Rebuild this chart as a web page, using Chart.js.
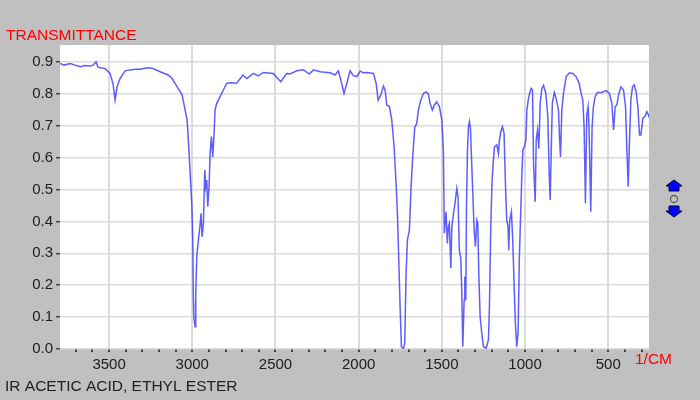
<!DOCTYPE html>
<html>
<head>
<meta charset="utf-8">
<title>IR acetic acid, ethyl ester</title>
<script src="https://cdn.jsdelivr.net/npm/chart.js@4.4.1/dist/chart.umd.min.js"></script>
<style>
  html, body { margin: 0; padding: 0; background: #c0c0c0; }
  #irChart { display: block; }
</style>
</head>
<body>
<canvas id="irChart" width="700" height="400"></canvas>
<script>
// wavenumber (1/cm) from left to right
const wavenumbers = [
  3795, 3770, 3734, 3704, 3674, 3644, 3614, 3596, 3578, 3566, 3524, 3494, 3476, 3464, 3452, 3434,
  3404, 3374, 3344, 3314, 3266, 3242, 3193, 3145, 3121, 3085, 3061, 3043, 3031, 3019, 3013, 3003,
  2997, 2993, 2991, 2983, 2979, 2973, 2963, 2953, 2947, 2941, 2933, 2925, 2919, 2913, 2907, 2899,
  2893, 2885, 2877, 2869, 2863, 2853, 2833, 2813, 2793, 2763, 2733, 2696, 2672, 2633, 2603, 2573,
  2513, 2468, 2432, 2412, 2372, 2332, 2296, 2272, 2232, 2172, 2142, 2122, 2107, 2088, 2071, 2052,
  2032, 2011, 1991, 1972, 1951, 1911, 1895, 1883, 1867, 1851, 1841, 1831, 1815, 1801, 1787, 1775,
  1767, 1759, 1751, 1743, 1731, 1723, 1715, 1707, 1695, 1685, 1675, 1663, 1651, 1641, 1627, 1611,
  1595, 1581, 1571, 1557, 1545, 1531, 1515, 1500, 1491, 1485, 1475, 1467, 1461, 1455, 1446, 1440,
  1431, 1421, 1410, 1403, 1395, 1386, 1380, 1374, 1366, 1362, 1356, 1352, 1346, 1340, 1334, 1328,
  1322, 1314, 1306, 1298, 1290, 1284, 1278, 1270, 1260, 1250, 1234, 1220, 1214, 1206, 1198, 1190,
  1184, 1170, 1160, 1154, 1146, 1136, 1126, 1118, 1110, 1102, 1098, 1092, 1082, 1074, 1066, 1058,
  1050, 1042, 1034, 1025, 1019, 1013, 1004, 995, 989, 981, 973, 963, 955, 949, 939, 933,
  925, 917, 909, 899, 889, 875, 863, 855, 849, 843, 836, 824, 813, 799, 793, 787,
  779, 769, 753, 733, 713, 693, 675, 663, 653, 645, 637, 629, 621, 615, 605, 597,
  589, 579, 565, 539, 513, 493, 478, 468, 458, 448, 438, 424, 408, 396, 388, 380,
  372, 364, 354, 344, 332, 322, 312, 304, 292, 278, 268, 258, 255
];

const transmittance = [
  0.895, 0.890, 0.895, 0.890, 0.885, 0.889, 0.887, 0.890, 0.900, 0.883, 0.879, 0.864, 0.830, 0.780, 0.822, 0.848,
  0.872, 0.875, 0.877, 0.877, 0.882, 0.880, 0.869, 0.859, 0.848, 0.817, 0.796, 0.749, 0.718, 0.614, 0.552, 0.457,
  0.342, 0.144, 0.100, 0.070, 0.175, 0.290, 0.342, 0.390, 0.425, 0.352, 0.394, 0.561, 0.509, 0.530, 0.446, 0.510,
  0.613, 0.666, 0.602, 0.676, 0.749, 0.770, 0.791, 0.812, 0.833, 0.835, 0.833, 0.859, 0.848, 0.864, 0.856, 0.867,
  0.864, 0.838, 0.864, 0.862, 0.872, 0.875, 0.862, 0.875, 0.869, 0.866, 0.859, 0.872, 0.843, 0.801, 0.833, 0.872,
  0.857, 0.854, 0.871, 0.866, 0.867, 0.864, 0.833, 0.780, 0.796, 0.824, 0.812, 0.765, 0.760, 0.718, 0.634, 0.519,
  0.425, 0.279, 0.133, 0.007, 0.002, 0.018, 0.237, 0.342, 0.373, 0.509, 0.602, 0.695, 0.707, 0.749, 0.780, 0.801,
  0.806, 0.800, 0.770, 0.749, 0.765, 0.775, 0.760, 0.718, 0.624, 0.363, 0.430, 0.331, 0.383, 0.394, 0.253, 0.383,
  0.420, 0.457, 0.503, 0.477, 0.310, 0.284, 0.174, 0.007, 0.154, 0.227, 0.154, 0.446, 0.624, 0.697, 0.713, 0.691,
  0.602, 0.488, 0.373, 0.321, 0.404, 0.394, 0.237, 0.101, 0.049, 0.007, 0.003, 0.028, 0.133, 0.383, 0.530, 0.592,
  0.634, 0.640, 0.613, 0.655, 0.681, 0.697, 0.676, 0.519, 0.404, 0.383, 0.310, 0.404, 0.430, 0.342, 0.206, 0.080,
  0.007, 0.050, 0.290, 0.446, 0.551, 0.624, 0.634, 0.655, 0.749, 0.780, 0.801, 0.817, 0.812, 0.582, 0.462, 0.655,
  0.687, 0.629, 0.770, 0.817, 0.826, 0.801, 0.728, 0.551, 0.467, 0.613, 0.770, 0.804, 0.785, 0.749, 0.666, 0.602,
  0.749, 0.801, 0.854, 0.866, 0.864, 0.854, 0.833, 0.801, 0.780, 0.697, 0.457, 0.734, 0.760, 0.687, 0.430, 0.697,
  0.760, 0.791, 0.804, 0.804, 0.810, 0.801, 0.770, 0.687, 0.760, 0.765, 0.796, 0.822, 0.812, 0.760, 0.624, 0.509,
  0.655, 0.780, 0.822, 0.828, 0.806, 0.760, 0.671, 0.671, 0.723, 0.730, 0.744, 0.734, 0.725
];

const yTicks = [0.0, 0.1, 0.2, 0.3, 0.4, 0.5, 0.6, 0.7, 0.8, 0.9];
const xTicks = [3700, 3600, 3500, 3400, 3300, 3200, 3100, 3000, 2900, 2800, 2700, 2600, 2500, 2400,
  2300, 2200, 2100, 2000, 1900, 1800, 1700, 1600, 1500, 1400, 1300, 1200, 1100, 1000,
  900, 800, 700, 600, 500, 400, 300];
const xLabels = [3500, 3000, 2500, 2000, 1500, 1000, 500];

const chartTitle = 'IR ACETIC ACID, ETHYL ESTER';
const yAxisTitle = 'TRANSMITTANCE';
const xAxisUnit = '1/CM';

(() => {
  const fontFamily = '"Liberation Sans", Arial, sans-serif';
  const gridColor = '#dcdcdc';
  const tickMarkColor = '#444';

  const spectrum = wavenumbers.map((wn, i) => ({ x: wn, y: transmittance[i] }));

  // white plot area + texts and the little scroll widget on the right
  const decorations = {
    id: 'decorations',
    beforeDraw: (chart) => {
      const { ctx, chartArea } = chart;
      ctx.save();
      ctx.fillStyle = '#c0c0c0';
      ctx.fillRect(0, 0, chart.width, chart.height);
      ctx.fillStyle = '#ffffff';
      ctx.fillRect(chartArea.left, chartArea.top, chartArea.right - chartArea.left, chartArea.bottom - chartArea.top);
      ctx.restore();
    },
    afterDraw: (chart) => {
      const { ctx } = chart;
      ctx.save();
      ctx.font = '15.5px ' + fontFamily;
      ctx.textBaseline = 'alphabetic';
      ctx.textAlign = 'left';
      ctx.fillStyle = '#ff0000';
      ctx.fillText(yAxisTitle, 6, 40);
      ctx.fillText(xAxisUnit, 635, 364);
      ctx.fillStyle = '#202020';
      ctx.fillText(chartTitle, 5, 391);

      const drawArrow = (cx, tipY, dir) => {
        ctx.beginPath();
        ctx.moveTo(cx, tipY);
        ctx.lineTo(cx + 8, tipY + dir * 6);
        ctx.lineTo(cx + 5, tipY + dir * 6);
        ctx.lineTo(cx + 5, tipY + dir * 11);
        ctx.lineTo(cx - 5, tipY + dir * 11);
        ctx.lineTo(cx - 5, tipY + dir * 6);
        ctx.lineTo(cx - 8, tipY + dir * 6);
        ctx.closePath();
        ctx.fillStyle = '#0000ff';
        ctx.fill();
        ctx.strokeStyle = '#000040';
        ctx.lineWidth = 1;
        ctx.stroke();
      };
      drawArrow(674, 180, 1);
      drawArrow(674, 217, -1);
      ctx.beginPath();
      ctx.arc(674, 199, 3.5, 0, Math.PI * 2);
      ctx.strokeStyle = '#606060';
      ctx.lineWidth = 1.3;
      ctx.stroke();
      ctx.restore();
    }
  };

  new Chart(document.getElementById('irChart'), {
    type: 'line',
    data: {
      datasets: [{
        data: spectrum,
        borderColor: 'rgba(40, 40, 255, 0.75)',
        borderWidth: 1.5,
        pointRadius: 0,
        tension: 0,
        fill: false
      }]
    },
    options: {
      responsive: false,
      animation: false,
      layout: { padding: { top: 45, right: 51, left: 0, bottom: 0 } },
      plugins: {
        legend: { display: false },
        tooltip: { enabled: false }
      },
      scales: {
        x: {
          type: 'linear',
          reverse: true,
          min: 255,
          max: 3795,
          afterBuildTicks: (scale) => {
            scale.ticks = xTicks.map((value) => ({ value }));
          },
          afterFit: (scale) => { scale.height = 51; },
          border: { display: false },
          grid: {
            color: (ctx) => (ctx.tick && xLabels.includes(ctx.tick.value) ? gridColor : 'rgba(0,0,0,0)'),
            tickColor: tickMarkColor,
            lineWidth: 2,
            tickLength: 3
          },
          ticks: {
            autoSkip: false,
            maxRotation: 0,
            padding: 4,
            color: '#202020',
            font: { family: fontFamily, size: 15 },
            callback: (value) => (xLabels.includes(value) ? String(value) : '')
          }
        },
        y: {
          min: 0,
          max: 0.953,
          afterBuildTicks: (scale) => {
            scale.ticks = yTicks.map((value) => ({ value }));
          },
          afterFit: (scale) => { scale.width = 60; },
          border: { display: false },
          grid: {
            color: gridColor,
            tickColor: tickMarkColor,
            lineWidth: 1.5,
            tickLength: 4
          },
          ticks: {
            padding: 3,
            color: '#202020',
            font: { family: fontFamily, size: 15 },
            callback: (value) => Number(value).toFixed(1)
          }
        }
      }
    },
    plugins: [decorations]
  });
})();
</script>
</body>
</html>
